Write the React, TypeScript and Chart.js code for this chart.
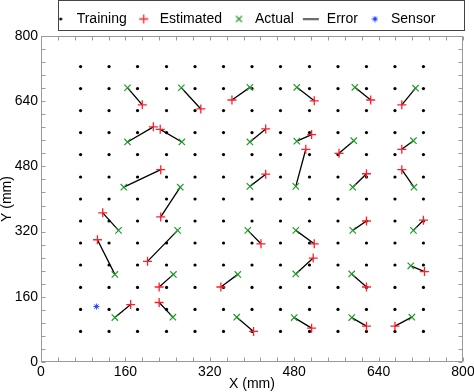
import React, { useEffect, useRef } from 'react';
import { Chart, registerables } from 'chart.js';

Chart.register(...registerables);

// Training grid positions (mm), same for X and Y
const gridPositions = [75, 129, 183, 238, 292, 346, 400, 454, 509, 563, 617, 671, 725];

// Actual (true) test locations
const actualX = [164, 266, 396, 164, 267, 396, 157, 264, 396, 485, 595, 710, 485, 483, 593, 706, 591, 707,
  147, 140, 259, 251, 373, 392, 140, 250, 371, 483, 591, 706, 483, 589, 701, 480, 589, 703];
const actualY = [673, 673, 674, 540, 540, 540, 429, 429, 431, 674, 674, 672, 542, 431, 543, 543, 429, 429,
  323, 215, 323, 215, 215, 323, 109, 110, 110, 323, 323, 323, 216, 216, 236, 109, 109, 110];

// Estimated locations
const estimatedX = [192, 303, 362, 213, 226, 426, 227, 227, 426, 518, 625, 684, 513, 502, 565, 684, 617, 684,
  117, 107, 202, 224, 341, 417, 170, 224, 403, 518, 617, 725, 516, 617, 727, 513, 617, 671];
const estimatedY = [631, 621, 643, 577, 571, 572, 472, 356, 461, 641, 643, 631, 558, 522, 512, 522, 462, 472,
  366, 300, 247, 184, 184, 290, 141, 146, 75, 290, 346, 348, 255, 184, 222, 83, 88, 88];

const sensorX = [105];
const sensorY = [136];

const majorTicks = [0, 160, 320, 480, 640, 800];
const legendLabels = ['Training', 'Estimated', 'Actual', 'Error', 'Sensor'];

const RED = '#ff1f2a';
const GREEN = '#23992a';
const BLUE = '#2040ff';
const FONT = 'Liberation Sans, Arial, sans-serif';

function makeIcon(w: number, h: number, draw: (g: CanvasRenderingContext2D) => void) {
  const c = document.createElement('canvas');
  c.width = w;
  c.height = h;
  const g = c.getContext('2d')!;
  draw(g);
  return c;
}

export default function App() {
  const ref = useRef<HTMLCanvasElement | null>(null);

  useEffect(() => {
    if (!ref.current) return;

    const training: { x: number; y: number }[] = [];
    gridPositions.forEach((gx) => gridPositions.forEach((gy) => training.push({ x: gx, y: gy })));
    const actual = actualX.map((x, i) => ({ x, y: actualY[i] }));
    const estimated = estimatedX.map((x, i) => ({ x, y: estimatedY[i] }));
    const errorLine: { x: number; y: number | null }[] = [];
    actualX.forEach((x, i) => {
      errorLine.push({ x, y: actualY[i] });
      errorLine.push({ x: estimatedX[i], y: estimatedY[i] });
      errorLine.push({ x: estimatedX[i], y: null });
    });
    const sensor = sensorX.map((x, i) => ({ x, y: sensorY[i] }));

    const icons = [
      makeIcon(4, 4, (g) => { g.fillStyle = '#000'; g.beginPath(); g.arc(2, 2, 1.5, 0, Math.PI * 2); g.fill(); }),
      makeIcon(11, 11, (g) => { g.strokeStyle = RED; g.lineWidth = 1.3; g.beginPath(); g.moveTo(1, 5.5); g.lineTo(10, 5.5); g.moveTo(5.5, 1); g.lineTo(5.5, 10); g.stroke(); }),
      makeIcon(9, 9, (g) => { g.strokeStyle = GREEN; g.lineWidth = 1.2; g.beginPath(); g.moveTo(1.5, 1.5); g.lineTo(7.5, 7.5); g.moveTo(7.5, 1.5); g.lineTo(1.5, 7.5); g.stroke(); }),
      makeIcon(18, 3, (g) => { g.strokeStyle = '#000'; g.lineWidth = 1.3; g.beginPath(); g.moveTo(1, 1.5); g.lineTo(17, 1.5); g.stroke(); }),
      makeIcon(7, 7, (g) => {
        g.strokeStyle = BLUE; g.lineWidth = 1; g.beginPath();
        g.moveTo(0.5, 3.5); g.lineTo(6.5, 3.5); g.moveTo(3.5, 0.5); g.lineTo(3.5, 6.5);
        g.moveTo(1.3, 1.3); g.lineTo(5.7, 5.7); g.moveTo(5.7, 1.3); g.lineTo(1.3, 5.7); g.stroke();
      }),
    ];

    const framePlugin = {
      id: 'frame',
      beforeDraw(chart: any) {
        const lg = chart.legend;
        if (lg) {
          lg.left = 6.5;
          lg.right = 474 + 6.5;
        }
      },
      afterDraw(chart: any) {
        const { ctx, chartArea: a, scales } = chart;
        ctx.save();
        ctx.strokeStyle = '#9a9a9a';
        ctx.lineWidth = 1;
        const L = Math.round(a.left) + 0.5;
        const R = Math.round(a.right) - 0.5;
        const T = Math.round(a.top) + 0.5;
        const B = Math.round(a.bottom) - 0.5;
        ctx.strokeRect(L, T, R - L, B - T);
        ctx.beginPath();
        scales.x.ticks.forEach((t: any) => {
          const px = Math.round(scales.x.getPixelForValue(t.value)) + 0.5;
          ctx.moveTo(px, B); ctx.lineTo(px, B - 4);
          ctx.moveTo(px, T); ctx.lineTo(px, T + 4);
        });
        scales.y.ticks.forEach((t: any) => {
          const py = Math.round(scales.y.getPixelForValue(t.value)) + 0.5;
          ctx.moveTo(L, py); ctx.lineTo(L + 4, py);
          ctx.moveTo(R, py); ctx.lineTo(R - 4, py);
        });
        ctx.stroke();
        // legend frame
        ctx.strokeStyle = '#444';
        ctx.strokeRect(58.5, 0.5, 406, 30);
        ctx.restore();
      },
    };

    const tickFont = { family: FONT, size: 14, lineHeight: 1 };

    const chart = new Chart(ref.current, {
      type: 'scatter',
      data: {
        datasets: [
          { label: legendLabels[0], data: training, pointStyle: 'circle', pointRadius: 1.6, pointHoverRadius: 1.6,
            backgroundColor: '#000', borderColor: '#000', borderWidth: 0, order: 5 },
          { label: legendLabels[1], data: estimated, pointStyle: 'cross', pointRadius: 4.5, pointHoverRadius: 4.5,
            borderColor: RED, backgroundColor: RED, borderWidth: 1.3, order: 1 },
          { label: legendLabels[2], data: actual, pointStyle: 'crossRot', pointRadius: 4.5, pointHoverRadius: 4.5,
            borderColor: GREEN, backgroundColor: GREEN, borderWidth: 1.2, order: 2 },
          { label: legendLabels[3], data: errorLine as any, showLine: true, spanGaps: false, pointRadius: 0,
            pointHoverRadius: 0, borderColor: '#000', backgroundColor: '#000', borderWidth: 1.3, order: 3 },
          { label: legendLabels[4], data: sensor, pointStyle: 'star', pointRadius: 3, pointHoverRadius: 3,
            borderColor: BLUE, backgroundColor: BLUE, borderWidth: 1, order: 4 },
        ] as any,
      },
      options: {
        animation: false,
        responsive: true,
        maintainAspectRatio: false,
        layout: { padding: { top: 0, right: 0, bottom: 0, left: 0 } },
        plugins: {
          tooltip: { enabled: false },
          legend: {
            position: 'top',
            labels: {
              usePointStyle: true,
              pointStyleWidth: 18,
              padding: 8,
              color: '#000',
              font: { family: FONT, size: 14 },
              sort: (a: any, b: any) => a.datasetIndex - b.datasetIndex,
              generateLabels: (ch: any) => {
                const items = (Chart.defaults.plugins.legend.labels as any).generateLabels(ch);
                return items.map((it: any) => ({ ...it, pointStyle: icons[it.datasetIndex], lineWidth: 0 }));
              },
            },
          },
        },
        scales: {
          x: {
            type: 'linear', min: 0, max: 800, position: 'bottom',
            grid: { display: false, drawTicks: false },
            border: { display: false },
            afterFit: (s: any) => { s.height = 30; s.paddingRight = 11; },
            ticks: {
              stepSize: 32, maxTicksLimit: 40, autoSkip: false, maxRotation: 0, padding: 3,
              color: '#000', font: tickFont,
              callback: (v: any) => (majorTicks.includes(Number(v)) ? String(v) : ''),
            },
            title: { display: true, text: 'X (mm)', color: '#000', font: tickFont, padding: { top: 0, bottom: 1 } },
          },
          y: {
            type: 'linear', min: 0, max: 800,
            grid: { display: false, drawTicks: false },
            border: { display: false },
            afterFit: (s: any) => { s.width = 41; s.paddingTop = 36; },
            ticks: {
              stepSize: 32, maxTicksLimit: 40, autoSkip: false, padding: 3,
              color: '#000', font: tickFont,
              callback: (v: any) => (majorTicks.includes(Number(v)) ? String(v) : ''),
            },
            title: { display: true, text: 'Y (mm)', color: '#000', font: tickFont, padding: { top: 0, bottom: 0 } },
          },
        },
      },
      plugins: [framePlugin],
    });

    return () => chart.destroy();
  }, []);

  return (
    <div style={{ position: 'fixed', left: 0, top: 0, width: 474, height: 392, background: '#fff' }}>
      <canvas ref={ref} />
    </div>
  );
}
